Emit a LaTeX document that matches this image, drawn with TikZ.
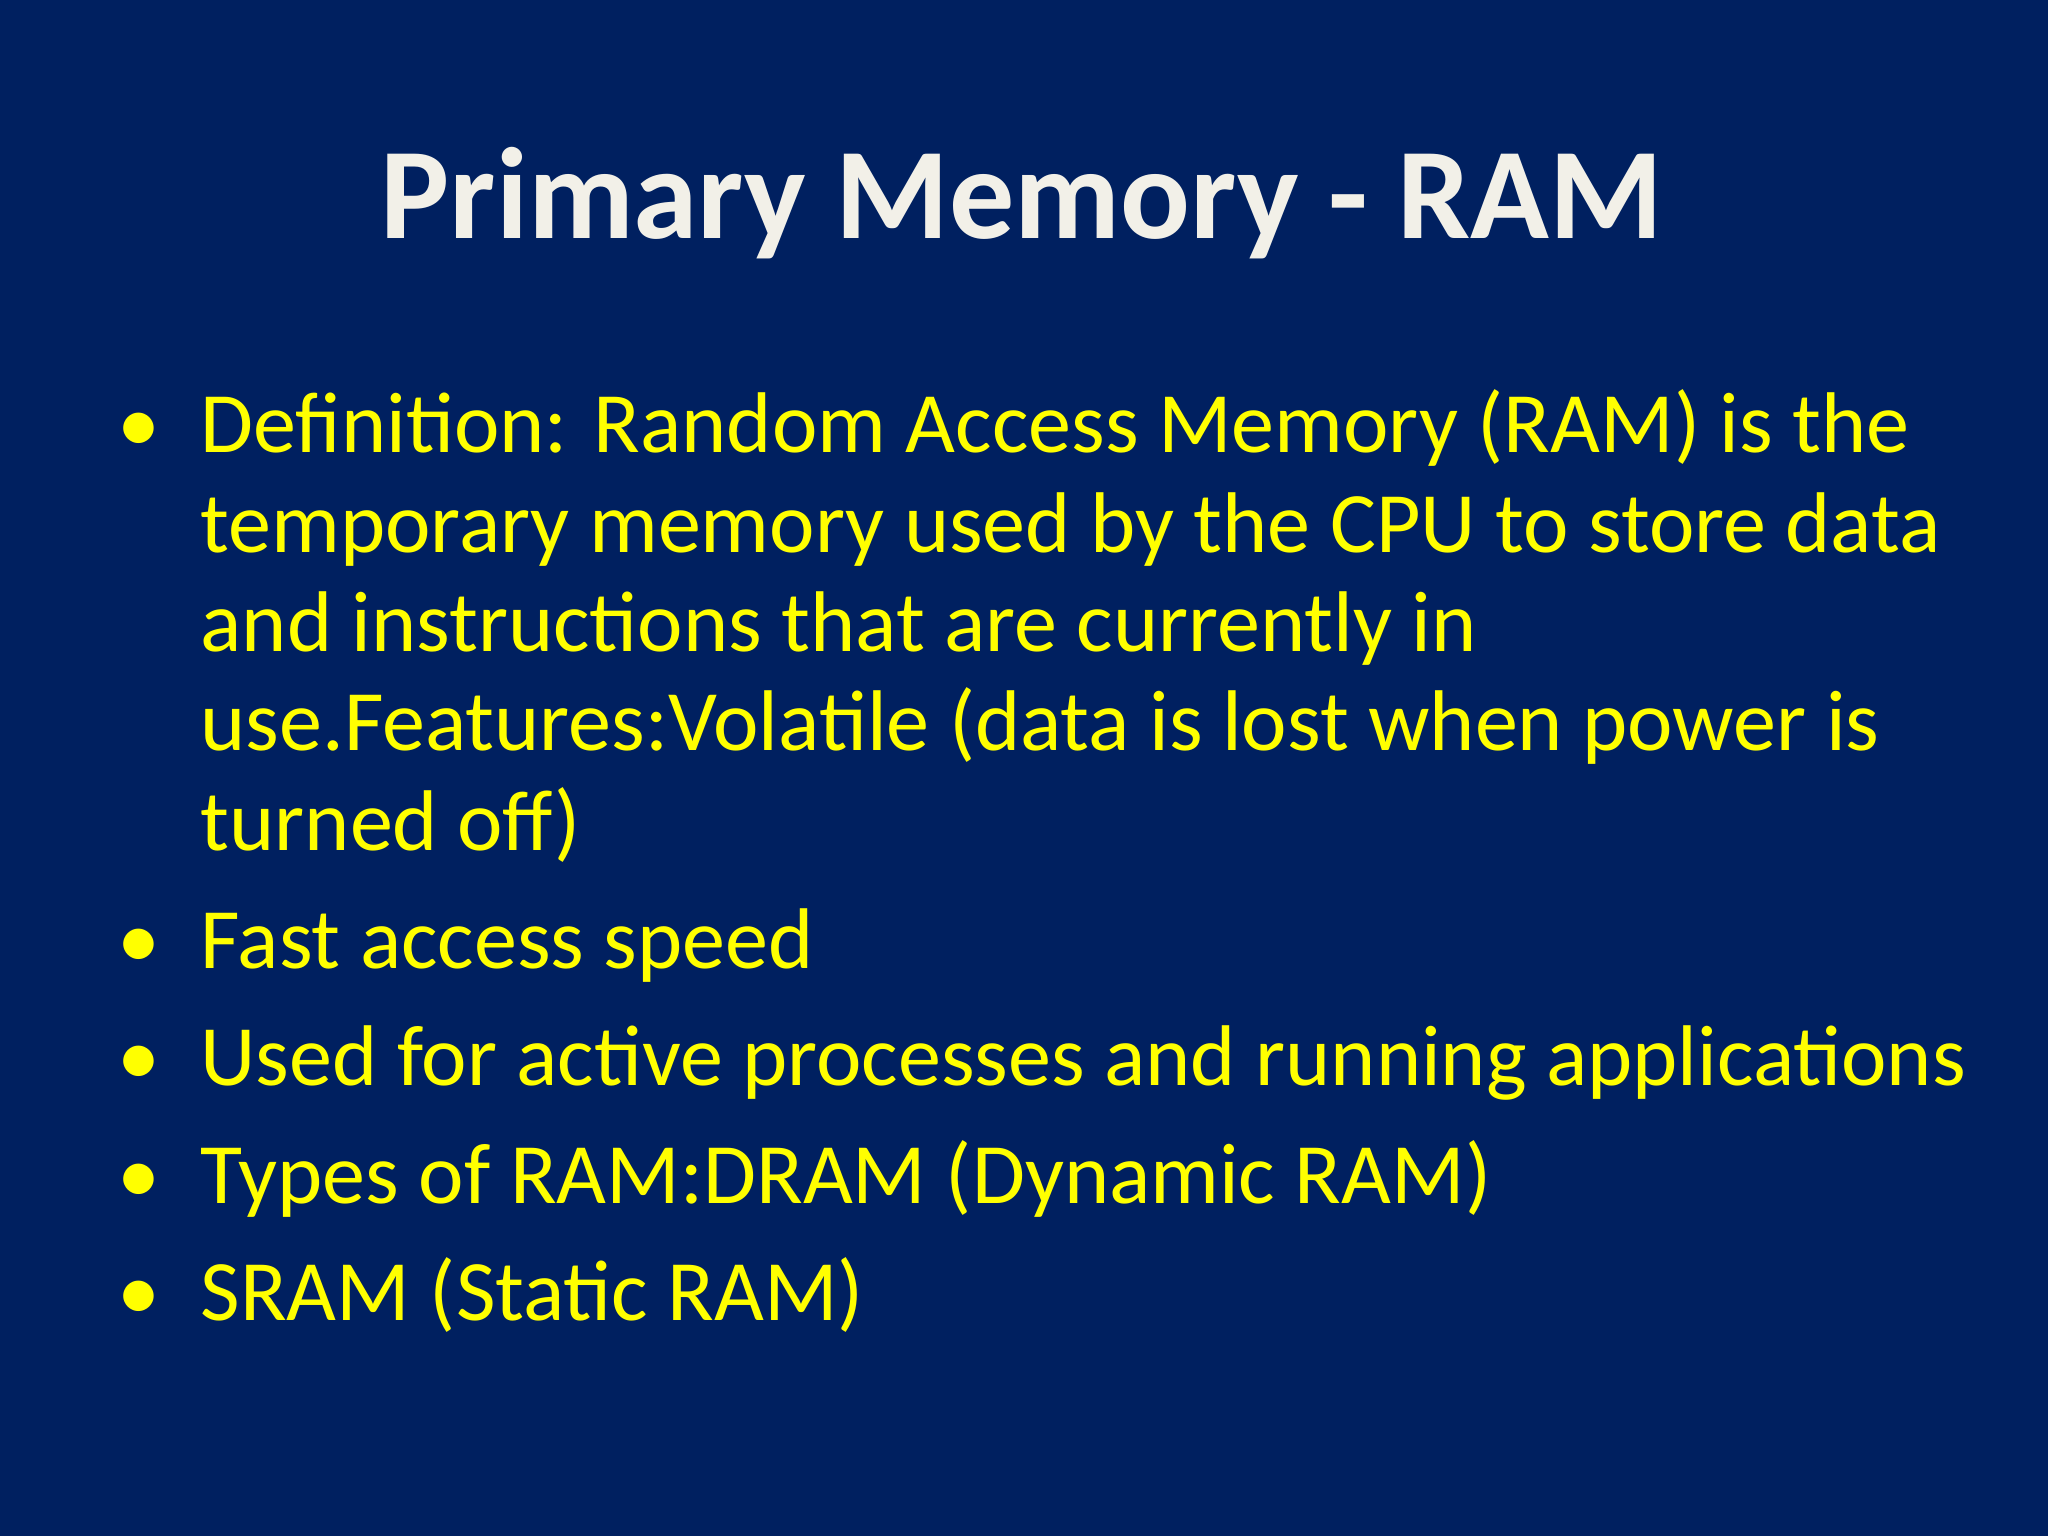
\documentclass[tikz,border=0pt]{standalone}
\usepackage{fontspec}
\setmainfont{Carlito}
\definecolor{bg}{HTML}{002060}
\definecolor{ttl}{HTML}{F2F0E8}
\definecolor{ylw}{HTML}{FFFF00}
\begin{document}
\begin{tikzpicture}[x=1cm,y=1cm,
  ln/.style={anchor=base west,inner sep=0pt,text=ylw,font=\fontsize{24.5pt}{29pt}\selectfont},
  bl/.style={anchor=base,inner sep=0pt,text=ylw,font=\fontsize{24.5pt}{29pt}\selectfont}]
\fill[bg] (0,0) rectangle (20.48,-15.36);
\useasboundingbox (0,0) rectangle (20.48,-15.36);
\node[anchor=base,inner sep=0pt,text=ttl,font=\fontsize{37pt}{44pt}\selectfont\bfseries] (title) at (10.22,-2.39) {Primary Memory - RAM};
\foreach \y [count=\i] in {4.53,9.68,10.85,12.03,13.20}{
  \node[bl] (b\i) at (1.39,-\y) {•};
}
\node[ln] (l1) at (2.0,-4.53) {Definition: Random Access Memory (RAM) is the};
\node[ln] (l2) at (2.0,-5.52) {temporary memory used by the CPU to store data};
\node[ln] (l3) at (2.0,-6.52) {and instructions that are currently in};
\node[ln] (l4) at (2.0,-7.51) {use.Features:Volatile (data is lost when power is};
\node[ln] (l5) at (2.0,-8.50) {turned off)};
\node[ln] (l6) at (2.0,-9.68) {Fast access speed};
\node[ln] (l7) at (2.0,-10.85) {Used for active processes and running applications};
\node[ln] (l8) at (2.0,-12.03) {Types of RAM:DRAM (Dynamic RAM)};
\node[ln] (l9) at (2.0,-13.20) {SRAM (Static RAM)};
\end{tikzpicture}
\end{document}
